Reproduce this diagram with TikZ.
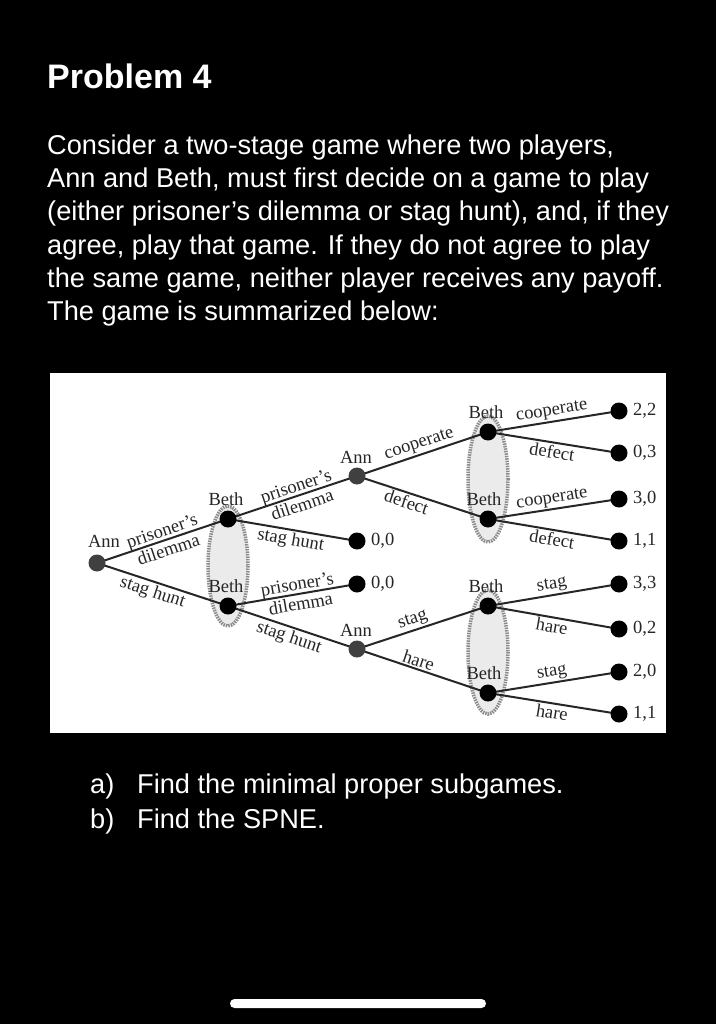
\documentclass[tikz,border=0pt]{standalone}
\usepackage{fontspec}
\setmainfont{Liberation Sans}
\newfontfamily\treefont{Liberation Serif}
\begin{document}
\begin{tikzpicture}[x=1pt,y=-1pt,
  body/.style={anchor=base west,text=white,font=\fontsize{27.2}{30}\selectfont,inner sep=0},
  dot/.style={circle,inner sep=0,minimum size=17pt},
  edge/.style={line width=2pt,black!85},
  lab/.style={font=\treefont\fontsize{18.5}{17}\selectfont,text=black!85,inner sep=1.5pt},
  pay/.style={font=\treefont\fontsize{18.5}{17}\selectfont,text=black!85,inner sep=0,anchor=west},
  info/.style={draw=black!45,fill=black!8,dashed,dash pattern=on 1.5pt off 1pt,line width=3.5pt}]
\fill[black] (0,0) rectangle (716,1024);
\useasboundingbox (0,0) rectangle (716,1024);
\node[body,font=\bfseries\fontsize{34}{36}\selectfont] (title) at (47,89) {Problem 4};
\node[body] (l1) at (47,155) {Consider a two-stage game where two players,};
\node[body] (l2) at (47,188) {Ann and Beth, must first decide on a game to play};
\node[body] (l3) at (47,221) {(either prisoner’s dilemma or stag hunt), and, if they};
\node[body] (l4) at (47,254) {agree, play that game. If they do not agree to play};
\node[body] (l5) at (47,287) {the same game, neither player receives any payoff.};
\node[body] (l6) at (47,320) {The game is summarized below:};
\node[body] (qa) at (90,793) {a)};
\node[body] (qat) at (137,793) {Find the minimal proper subgames.};
\node[body] (qb) at (90,828) {b)};
\node[body] (qbt) at (137,828) {Find the SPNE.};
\fill[white,rounded corners=4.5pt] (230,999) rectangle (486,1008);
% diagram
\fill[white] (50,373) rectangle (666,733);
\draw[info] (228,566) ellipse (20 and 60);
\draw[info] (488,479) ellipse (20 and 63);
\draw[info] (488,652) ellipse (20 and 62);
\node[dot] (root) at (97,563) {};
\node[dot] (b1) at (228,519) {};
\node[dot] (b2) at (228,606) {};
\node[dot] (a1) at (357,476) {};
\node[dot] (t00a) at (357,541) {};
\node[dot] (t00b) at (357,584) {};
\node[dot] (a2) at (357,649) {};
\node[dot] (c1) at (488,432) {};
\node[dot] (c2) at (488,519) {};
\node[dot] (c3) at (488,606) {};
\node[dot] (c4) at (488,693) {};
\foreach \n/\y in {p1/411,p2/453,p3/499,p4/541,p5/584,p6/629,p7/672,p8/714}
  \node[dot] (\n) at (619,\y) {};
\foreach \n/\t in {p1/{2,2},p2/{0,3},p3/{3,0},p4/{1,1},p5/{3,3},p6/{0,2},p7/{2,0},p8/{1,1}}
  \node[pay] at ([xshift=14pt]\n.center) {\t};
\node[pay] at ([xshift=14pt]t00a.center) {0,0};
\node[pay] at ([xshift=14pt]t00b.center) {0,0};
% player names
\node[lab] at (104,541) {Ann};
\node[lab] at (226,499) {Beth};
\node[lab] at (226,586) {Beth};
\node[lab] at (356,457) {Ann};
\node[lab] at (356,630) {Ann};
\node[lab] at (486,412) {Beth};
\node[lab] at (484,499) {Beth};
\node[lab] at (486,586) {Beth};
\node[lab] at (484,673) {Beth};
% edges
\draw[edge] (root.center) -- node[lab,sloped,align=center,pos=0.52] {prisoner’s\\[3pt]dilemma} (b1.center);
\draw[edge] (root.center) -- node[lab,sloped,below,pos=0.45] {stag hunt} (b2.center);
\draw[edge] (b1.center) -- node[lab,sloped,align=center,pos=0.55] {prisoner’s\\[3pt]dilemma} (a1.center);
\draw[edge] (b1.center) -- node[lab,sloped,below,pos=0.5] {stag hunt} (t00a.center);
\draw[edge] (b2.center) -- node[lab,sloped,align=center,pos=0.55] {prisoner’s\\[3pt]dilemma} (t00b.center);
\draw[edge] (b2.center) -- node[lab,sloped,below,pos=0.5] {stag hunt} (a2.center);
\draw[edge] (a1.center) -- node[lab,sloped,above,pos=0.5] {cooperate} (c1.center);
\draw[edge] (a1.center) -- node[lab,sloped,below,pos=0.4] {defect} (c2.center);
\draw[edge] (a2.center) -- node[lab,sloped,above,pos=0.45] {stag} (c3.center);
\draw[edge] (a2.center) -- node[lab,sloped,above,pos=0.45] {hare} (c4.center);
\draw[edge] (c1.center) -- node[lab,sloped,above] {cooperate} (p1.center);
\draw[edge] (c1.center) -- node[lab,sloped,below] {defect} (p2.center);
\draw[edge] (c2.center) -- node[lab,sloped,above] {cooperate} (p3.center);
\draw[edge] (c2.center) -- node[lab,sloped,below] {defect} (p4.center);
\draw[edge] (c3.center) -- node[lab,sloped,above] {stag} (p5.center);
\draw[edge] (c3.center) -- node[lab,sloped,below] {hare} (p6.center);
\draw[edge] (c4.center) -- node[lab,sloped,above] {stag} (p7.center);
\draw[edge] (c4.center) -- node[lab,sloped,below] {hare} (p8.center);
\foreach \n in {root,a1,a2}
  \fill[black!75] (\n) circle (8.5);
\foreach \n in {b1,b2,t00a,t00b,c1,c2,c3,c4,p1,p2,p3,p4,p5,p6,p7,p8}
  \fill[black] (\n) circle (8.5);
\end{tikzpicture}
\end{document}
